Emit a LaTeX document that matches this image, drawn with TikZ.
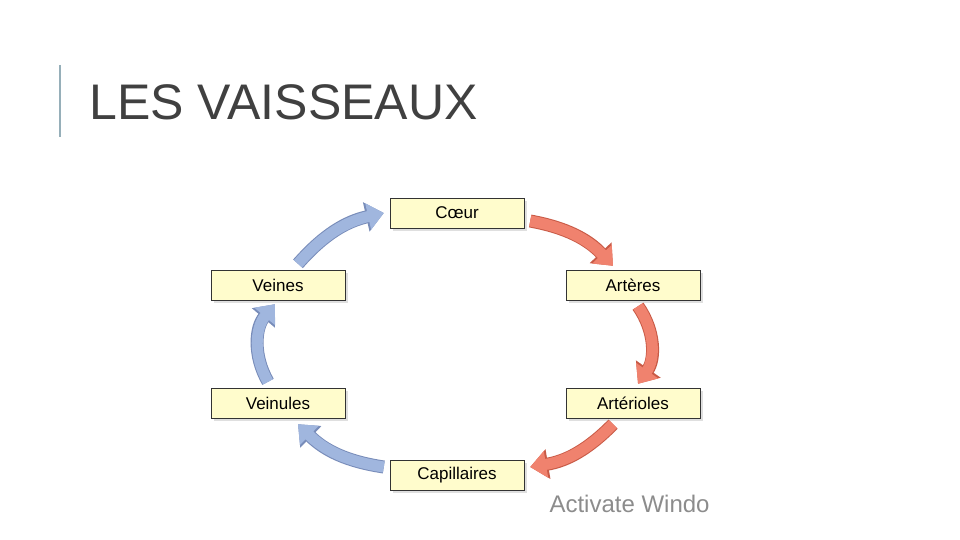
\documentclass[tikz,border=0pt]{standalone}
\usepackage{fontspec}
\setmainfont{Liberation Sans}
\usetikzlibrary{arrows.meta,shadows,calc}
\definecolor{boxfill}{RGB}{255,252,204}
\definecolor{redflow}{RGB}{240,130,110}
\definecolor{redline}{RGB}{200,90,70}
\definecolor{blueflow}{RGB}{160,182,222}
\definecolor{blueline}{RGB}{120,140,185}
\definecolor{titlegray}{RGB}{64,64,64}
\definecolor{barcolor}{RGB}{150,175,185}
\begin{document}
\begin{tikzpicture}[x=1pt,y=-1pt,
    organ/.style={draw=black!80, fill=boxfill, minimum width=134pt, minimum height=30pt,
      font=\fontsize{17}{17}\selectfont, drop shadow={shadow xshift=3pt,shadow yshift=-3pt,opacity=0.25}},
    flow/.style={line width=11pt, draw=#1, -{Triangle[width=26pt,length=16pt]}},
    redarrow/.style={flow=redflow, preaction={draw=redline, line width=13pt, -{Triangle[width=29pt,length=18pt]}}},
    bluearrow/.style={flow=blueflow, preaction={draw=blueline, line width=13pt, -{Triangle[width=29pt,length=18pt]}}}]
    \useasboundingbox (0,0) rectangle (960,540);
    % Title
    \draw[barcolor, line width=2pt] (60,65) -- (60,137);
    \node[anchor=base west, text=titlegray, font=\fontsize{50}{50}\selectfont] (title) at (86,120) {LES VAISSEAUX};
    % Organs
    \node[organ] (coeur) at (457,213) {Cœur};
    \node[organ] (arteres) at (633,285) {Artères};
    \node[organ] (arterioles) at (633,403) {Artérioles};
    \node[organ] (capillaires) at (457,475) {Capillaires};
    \node[organ] (veinules) at (278,403) {Veinules};
    \node[organ] (veines) at (278,285) {Veines};
    % Flow
    \draw[redarrow] ($(coeur.east)+(6,8)$) to[bend left=18] ($(arteres.north)+(-20,-4)$);
    \draw[redarrow] ($(arteres.south)+(5,6)$) to[bend left=35] ($(arterioles.north)+(5,-4)$);
    \draw[redarrow] ($(arterioles.south)+(-20,6)$) to[bend left=18] ($(capillaires.east)+(6,-8)$);
    \draw[bluearrow] ($(capillaires.west)+(-6,-8)$) to[bend left=18] ($(veinules.south)+(20,6)$);
    \draw[bluearrow] ($(veinules.north)+(-10,-6)$) to[bend left=35] ($(veines.south)+(-3,4)$);
    \draw[bluearrow] ($(veines.north)+(20,-6)$) to[bend left=18] ($(coeur.west)+(-6,0)$);
    % Watermark
    \node[anchor=base west, text=black!45, font=\fontsize{24}{24}\selectfont] (watermark) at (546,512) {Activate Windo};
\end{tikzpicture}
\end{document}
